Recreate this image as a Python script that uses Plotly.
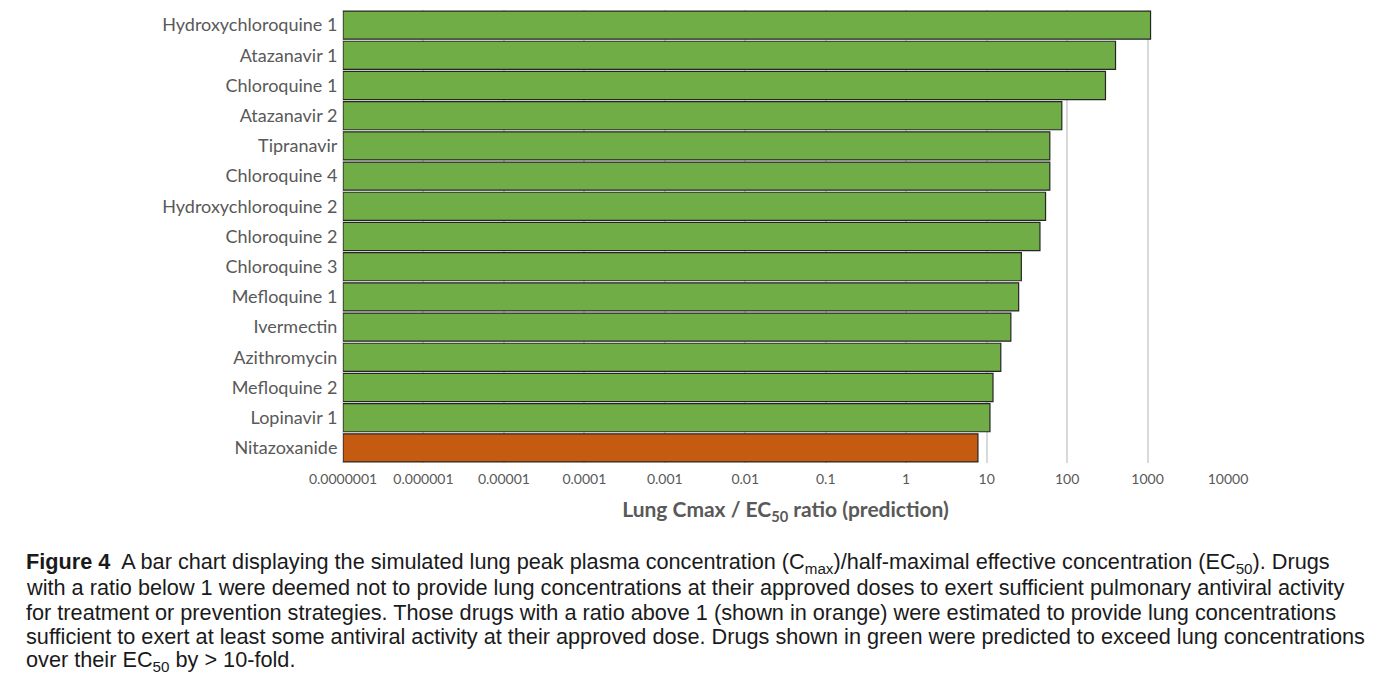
import plotly.graph_objects as go

drugs = ["Hydroxychloroquine 1", "Atazanavir 1", "Chloroquine 1", "Atazanavir 2",
         "Tipranavir", "Chloroquine 4", "Hydroxychloroquine 2", "Chloroquine 2",
         "Chloroquine 3", "Mefloquine 1", "Ivermectin", "Azithromycin",
         "Mefloquine 2", "Lopinavir 1", "Nitazoxanide"]
ratios = [1090, 400, 300, 86, 61, 61, 54, 46, 27, 25, 20, 15, 12, 11, 7.8]
bar_colors = ["#70AD47"] * 14 + ["#C55A11"]
tick_vals = [1e-7, 1e-6, 1e-5, 1e-4, 1e-3, 1e-2, 1e-1, 1, 10, 100, 1000, 10000]
tick_text = ["0.0000001", "0.000001", "0.00001", "0.0001", "0.001", "0.01",
             "0.1", "1", "10", "100", "1000", "10000"]
caption_lines = [
    "<b>Figure 4</b>  A bar chart displaying the simulated lung peak plasma concentration (C<sub>max</sub>)/half-maximal effective concentration (EC<sub>50</sub>). Drugs",
    "with a ratio below 1 were deemed not to provide lung concentrations at their approved doses to exert sufficient pulmonary antiviral activity",
    "for treatment or prevention strategies. Those drugs with a ratio above 1 (shown in orange) were estimated to provide lung concentrations",
    "sufficient to exert at least some antiviral activity at their approved dose. Drugs shown in green were predicted to exceed lung concentrations",
    "over their EC<sub>50</sub> by > 10-fold.",
]

fig = go.Figure(go.Bar(
    y=drugs, x=ratios, base=1e-7, orientation="h",
    marker=dict(color=bar_colors, line=dict(color="#262626", width=1.2)),
))

fig.update_layout(
    width=1396, height=680,
    margin=dict(l=0, r=0, t=0, b=0, autoexpand=False),
    paper_bgcolor="white", plot_bgcolor="white",
    showlegend=False,
    bargap=0.07,
    font=dict(family="Lato, sans-serif", color="#595959"),
)
fig.update_xaxes(
    type="log", range=[-7, 4], automargin=False,
    domain=[343 / 1396, 1228 / 1396],
    tickvals=tick_vals, ticktext=tick_text,
    tickfont=dict(size=14, color="#595959"),
    ticklabelstandoff=6,
    showgrid=True, gridcolor="#D9D9D9", gridwidth=2,
    zeroline=False, showline=False, ticks="",
    title=dict(text="<b>Lung Cmax / EC<sub>50</sub> ratio (prediction)</b>",
               font=dict(size=21, color="#595959"), standoff=16),
)
fig.update_yaxes(
    autorange="reversed", automargin=False,
    domain=[1 - 463 / 680, 1 - 10 / 680],
    tickfont=dict(size=18, color="#595959"),
    showline=True, linecolor="#D9D9D9", linewidth=1,
    ticks="", ticklabelstandoff=1, showgrid=False,
)

y0 = 563
for i, line in enumerate(caption_lines):
    fig.add_annotation(
        text=line, xref="paper", yref="paper",
        x=24 / 1396, y=1 - (y0 + i * 24.6) / 680,
        xanchor="left", yanchor="middle", showarrow=False, align="left",
        font=dict(family="Liberation Sans, Arial, sans-serif", size=21.7, color="#1a1a1a"),
    )

fig.write_html("out.html")
